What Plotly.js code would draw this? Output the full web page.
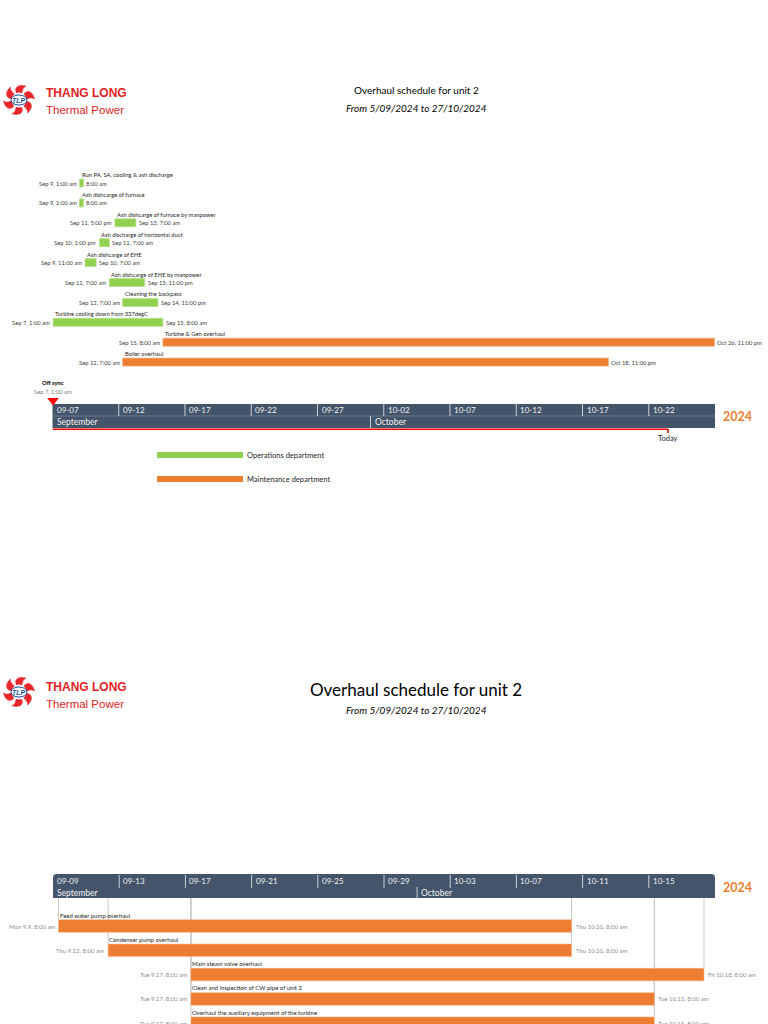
<!DOCTYPE html>
<html><head><meta charset="utf-8">
<script src="https://cdn.plot.ly/plotly-3.0.1.min.js"></script>
<style>html,body{margin:0;padding:0;background:#fff;}#chart{width:768px;height:1024px;}</style>
</head><body><div id="chart"></div>
<script>
// ===== Slide 1 data =====
const tasks1 = ["Run PA, SA, cooling & ash discharge","Ash dishcarge of furnace","Ash dishcarge of furnace by manpower","Ash discharge of horizontal duct","Ash dishcarge of EHE","Ash dishcarge of EHE by manpower","Cleaning the backpass","Turbine cooling down from 337degC","Turbine & Gen overhaul","Boiler overhaul"];
const start1 = ["2024-09-09 01:00","2024-09-09 01:00","2024-09-11 17:00","2024-09-10 13:00","2024-09-09 11:00","2024-09-11 07:00","2024-09-12 07:00","2024-09-07 01:00","2024-09-15 08:00","2024-09-12 07:00"];
const end1 = ["2024-09-09 08:00","2024-09-09 08:00","2024-09-13 07:00","2024-09-11 07:00","2024-09-10 07:00","2024-09-13 23:00","2024-09-14 23:00","2024-09-15 08:00","2024-10-26 23:00","2024-10-18 23:00"];
const startLabels1 = ["Sep 9, 1:00 am","Sep 9, 1:00 am","Sep 11, 5:00 pm","Sep 10, 1:00 pm","Sep 9, 11:00 am","Sep 11, 7:00 am","Sep 12, 7:00 am","Sep 7, 1:00 am","Sep 15, 8:00 am","Sep 12, 7:00 am"];
const endLabels1 = ["8:00 am","8:00 am","Sep 13, 7:00 am","Sep 11, 7:00 am","Sep 10, 7:00 am","Sep 13, 11:00 pm","Sep 14, 11:00 pm","Sep 15, 8:00 am","Oct 26, 11:00 pm","Oct 18, 11:00 pm"];
const dept1 = ["Operations department","Operations department","Operations department","Operations department","Operations department","Operations department","Operations department","Operations department","Maintenance department","Maintenance department"];
const tickDates1 = ["2024-09-07","2024-09-12","2024-09-17","2024-09-22","2024-09-27","2024-10-02","2024-10-07","2024-10-12","2024-10-17","2024-10-22"];
const tickLabels1 = ["09-07","09-12","09-17","09-22","09-27","10-02","10-07","10-12","10-17","10-22"];
const monthStarts1 = ["2024-09-07","2024-10-01"];
const monthLabels1 = ["September","October"];
const offSyncDate = "2024-09-07 01:00";
const offSyncLabel = "Sep 7, 1:00 am";
const todayDate = "2024-10-23 11:00";
const departments = ["Operations department","Maintenance department"];

// ===== Slide 2 data =====
const tasks2 = ["Feed water pump overhaul","Condenser pump overhaul","Main steam valve overhaul","Clean and inspection of CW pipe of unit 2","Overhaul the auxiliary equipment of the turbine"];
const start2 = ["2024-09-09 08:00","2024-09-12 08:00","2024-09-17 08:00","2024-09-17 08:00","2024-09-17 08:00"];
const end2 = ["2024-10-10 08:00","2024-10-10 08:00","2024-10-18 08:00","2024-10-15 08:00","2024-10-15 08:00"];
const startLabels2 = ["Mon 9.9, 8:00 am","Thu 9.12, 8:00 am","Tue 9.17, 8:00 am","Tue 9.17, 8:00 am","Tue 9.17, 8:00 am"];
const endLabels2 = ["Thu 10.10, 8:00 am","Thu 10.10, 8:00 am","Fri 10.18, 8:00 am","Tue 10.15, 8:00 am","Tue 10.15, 8:00 am"];
const tickDates2 = ["2024-09-09","2024-09-13","2024-09-17","2024-09-21","2024-09-25","2024-09-29","2024-10-03","2024-10-07","2024-10-11","2024-10-15"];
const tickLabels2 = ["09-09","09-13","09-17","09-21","09-25","09-29","10-03","10-07","10-11","10-15"];
const monthStarts2 = ["2024-09-09","2024-10-01"];
const monthLabels2 = ["September","October"];

// ===== layout constants =====
const W = 768, H = 1024;
const FONT = "Lato, 'Open Sans', sans-serif";
const ARIAL = "'Liberation Sans', Arial, sans-serif";
const GREEN = "#92d050", ORANGE = "#ed7d31", HDR = "#44546a";
const row1 = i => 183 + i * 19.9;
const row2 = i => 926 + i * 24.3;
const toMs = s => Date.parse(s.replace(" ", "T") + "Z");
const dur = (a, b) => a.map((s, i) => toMs(b[i]) - toMs(s));

const traces = [];
const shapes = [];
const anns = [];
function ann(o) { anns.push(Object.assign({showarrow:false, font:{family:FONT, size:6, color:"#262626"}}, o)); }

// --- Slide 1 bars ---
const colorOf = {"Operations department": GREEN, "Maintenance department": ORANGE};
const lineOf = {"Operations department": "#b5e08a", "Maintenance department": "#f4b183"};
departments.forEach(d => {
  const idx = dept1.map((v, i) => v === d ? i : -1).filter(i => i >= 0);
  traces.push({
    type:"bar", orientation:"h", xaxis:"x", yaxis:"y",
    base: idx.map(i => start1[i]),
    x: idx.map(i => toMs(end1[i]) - toMs(start1[i])),
    y: idx.map(i => row1(i)), width: 8,
    marker:{color: colorOf[d], line:{color: lineOf[d], width: 0.8}},
    hoverinfo:"skip", showlegend:false
  });
});
tasks1.forEach((t, i) => {
  ann({xref:"x", yref:"y", x:start1[i], y:row1(i) - 8.5, text:t, xanchor:"left", yanchor:"middle", font:{family:FONT, size:5.8, color:"#262626"}});
  ann({xref:"x", yref:"y", x:start1[i], y:row1(i), text:startLabels1[i], xanchor:"right", yanchor:"middle", xshift:-1, font:{family:FONT, size:5.8, color:"#404040"}});
  ann({xref:"x", yref:"y", x:end1[i], y:row1(i), text:endLabels1[i], xanchor:"left", yanchor:"middle", xshift:1, font:{family:FONT, size:5.8, color:"#404040"}});
});

// --- Slide 1 timeline header ---
shapes.push({type:"rect", xref:"x domain", yref:"y", x0:0, x1:1, y0:404, y1:428, fillcolor:HDR, line:{width:0}, layer:"below"});
shapes.push({type:"line", xref:"x domain", yref:"y", x0:0, x1:1, y0:416, y1:416, line:{color:"#8497b0", width:0.6}});
tickDates1.forEach((d, i) => {
  if (i > 0) shapes.push({type:"line", xref:"x", yref:"y", x0:d, x1:d, y0:404, y1:416, line:{color:"#c9d0da", width:1}});
  ann({xref:"x", yref:"y", x:d, y:410, text:tickLabels1[i], xanchor:"left", yanchor:"middle", xshift:2, font:{family:FONT, size:8, color:"#f2f2f2"}});
});
monthStarts1.forEach((d, i) => {
  if (i > 0) shapes.push({type:"line", xref:"x", yref:"y", x0:d, x1:d, y0:416, y1:428, line:{color:"#c9d0da", width:1}});
  ann({xref:"x", yref:"y", x:d, y:422, text:monthLabels1[i], xanchor:"left", yanchor:"middle", xshift:2, font:{family:FONT, size:8.5, color:"#f2f2f2"}});
});
shapes.push({type:"line", xref:"x", yref:"y", x0:tickDates1[0], x1:todayDate, y0:429.2, y1:429.2, line:{color:"#ff0000", width:1.5}});
shapes.push({type:"line", xref:"x", yref:"y", x0:todayDate, x1:todayDate, y0:429, y1:433, line:{color:"#e00000", width:1.5}});
ann({xref:"x", yref:"y", x:todayDate, y:438, text:"Today", xanchor:"center", yanchor:"middle", font:{family:FONT, size:7.5, color:"#262626"}});
traces.push({type:"scatter", mode:"markers", xaxis:"x", yaxis:"y", x:[offSyncDate], y:[400.5], marker:{symbol:"triangle-down", size:10, color:"#ff0000"}, hoverinfo:"skip", showlegend:false, cliponaxis:false});
ann({xref:"x", yref:"y", x:offSyncDate, y:382, text:"<b>Off sync</b>", xanchor:"center", yanchor:"middle", font:{family:FONT, size:5.8, color:"#000"}});
ann({xref:"x", yref:"y", x:offSyncDate, y:391, text:offSyncLabel, xanchor:"center", yanchor:"middle", font:{family:FONT, size:5.8, color:"#7f7f7f"}});
ann({xref:"paper", yref:"y", x:737/W, y:416, text:"<b>2024</b>", xanchor:"center", yanchor:"middle", font:{family:FONT, size:12.5, color:ORANGE}});

// --- Slide 1 legend ---
departments.forEach((d, i) => {
  const yy = 455 + i * 24;
  shapes.push({type:"rect", xref:"paper", yref:"y", x0:157/W, x1:243/W, y0:yy - 3, y1:yy + 3, fillcolor:colorOf[d], line:{width:0}});
  ann({xref:"paper", yref:"y", x:245/W, y:yy, text:d, xanchor:"left", yanchor:"middle", font:{family:FONT, size:7.5, color:"#262626"}});
});

// --- Slide 2 bars ---
traces.push({
  type:"bar", orientation:"h", xaxis:"x2", yaxis:"y2",
  base: start2, x: dur(start2, end2), y: tasks2.map((t, i) => row2(i)), width: 12.5,
  marker:{color: ORANGE, line:{color:"#f4b183", width:0.6}},
  hoverinfo:"skip", showlegend:false
});
tasks2.forEach((t, i) => {
  const top = row2(i) - 6.5;
  shapes.push({type:"line", xref:"x2", yref:"y2", x0:start2[i], x1:start2[i], y0:898, y1:top, line:{color:"#c8c8c8", width:1}, layer:"below"});
  shapes.push({type:"line", xref:"x2", yref:"y2", x0:end2[i], x1:end2[i], y0:898, y1:top, line:{color:"#c8c8c8", width:1}, layer:"below"});
  ann({xref:"x2", yref:"y2", x:start2[i], y:row2(i) - 11, text:t, xanchor:"left", yanchor:"middle", xshift:-1, font:{family:FONT, size:6, color:"#262626"}});
  ann({xref:"x2", yref:"y2", x:start2[i], y:row2(i), text:startLabels2[i], xanchor:"right", yanchor:"middle", xshift:-2, font:{family:FONT, size:6, color:"#8c8c8c"}});
  ann({xref:"x2", yref:"y2", x:end2[i], y:row2(i), text:endLabels2[i], xanchor:"left", yanchor:"middle", xshift:2, font:{family:FONT, size:6, color:"#8c8c8c"}});
});

// --- Slide 2 timeline header ---
shapes.push({type:"path", xref:"x2 domain", yref:"y2", path:"M 0,898 L 0,878 Q 0,874 0.006,874 L 0.994,874 Q 1,874 1,878 L 1,898 Z", fillcolor:HDR, line:{width:0}, layer:"below"});
tickDates2.forEach((d, i) => {
  if (i > 0) shapes.push({type:"line", xref:"x2", yref:"y2", x0:d, x1:d, y0:875, y1:888, line:{color:"#c9d0da", width:1}});
  ann({xref:"x2", yref:"y2", x:d, y:881, text:tickLabels2[i], xanchor:"left", yanchor:"middle", xshift:2, font:{family:FONT, size:8, color:"#f2f2f2"}});
});
monthStarts2.forEach((d, i) => {
  if (i > 0) shapes.push({type:"line", xref:"x2", yref:"y2", x0:d, x1:d, y0:887, y1:898, line:{color:"#c9d0da", width:1}});
  ann({xref:"x2", yref:"y2", x:d, y:893, text:monthLabels2[i], xanchor:"left", yanchor:"middle", xshift:2, font:{family:FONT, size:8.5, color:"#f2f2f2"}});
});
ann({xref:"paper", yref:"y", x:737/W, y:887, text:"<b>2024</b>", xanchor:"center", yanchor:"middle", font:{family:FONT, size:12.5, color:ORANGE}});

// --- Titles ---
ann({xref:"paper", yref:"y", x:416/W, y:90, text:"Overhaul schedule for unit 2", xanchor:"center", yanchor:"middle", font:{family:FONT, size:10, color:"#000"}});
ann({xref:"paper", yref:"y", x:416/W, y:108, text:"<i>From 5/09/2024 to 27/10/2024</i>", xanchor:"center", yanchor:"middle", font:{family:FONT, size:10, color:"#000"}});
ann({xref:"paper", yref:"y", x:416/W, y:689, text:"Overhaul schedule for unit 2", xanchor:"center", yanchor:"middle", font:{family:FONT, size:17, color:"#000"}});
ann({xref:"paper", yref:"y", x:416/W, y:710, text:"<i>From 5/09/2024 to 27/10/2024</i>", xanchor:"center", yanchor:"middle", font:{family:FONT, size:10, color:"#000"}});

// --- Logo ---
function logo(cx, cy, ty1, ty2) {
  const P = (r, deg) => { const a = deg * Math.PI / 180; return ((cx + r * Math.cos(a)) / W).toFixed(5) + "," + (cy + r * Math.sin(a)).toFixed(2); };
  for (let k = 0; k < 6; k++) {
    const t = k * 60 + 15;
    const path = "M " + P(6.5, t) + " C " + P(12, t - 14) + " " + P(17, t + 8) + " " + P(15.5, t + 42) +
                 " C " + P(13.5, t + 32) + " " + P(10.5, t + 34) + " " + P(6.5, t + 40) + " Z";
    shapes.push({type:"path", xref:"paper", yref:"y", path:path, fillcolor:"#e8262b", line:{color:"#e8262b", width:0.5}});
  }
  shapes.push({type:"circle", xref:"paper", yref:"y", x0:(cx - 7.5) / W, x1:(cx + 7.5) / W, y0:cy - 7.5, y1:cy + 7.5, fillcolor:"#fff", line:{width:0}});
  shapes.push({type:"circle", xref:"paper", yref:"y", x0:(cx - 8) / W, x1:(cx + 8) / W, y0:cy - 5, y1:cy + 5, fillcolor:"rgba(0,0,0,0)", line:{color:"#1f4e9c", width:1}});
  ann({xref:"paper", yref:"y", x:cx / W, y:cy, text:"<b><i>TLP</i></b>", xanchor:"center", yanchor:"middle", font:{family:ARIAL, size:7, color:"#1f4e9c"}});
  ann({xref:"paper", yref:"y", x:44 / W, y:ty1, text:"<b>THANG LONG</b>", xanchor:"left", yanchor:"middle", font:{family:ARIAL, size:12, color:"#e31e24"}});
  ann({xref:"paper", yref:"y", x:44 / W, y:ty2, text:"Thermal Power", xanchor:"left", yanchor:"middle", font:{family:ARIAL, size:11.5, color:"#e31e24"}});
}
logo(19, 100, 93, 110);
logo(19, 692, 687, 704);

const layout = {
  width: W, height: H, autosize:false,
  margin:{l:0, r:0, t:0, b:0, pad:0},
  paper_bgcolor:"#fff", plot_bgcolor:"rgba(0,0,0,0)",
  barmode:"overlay", showlegend:false,
  xaxis:{type:"date", domain:[52.5 / W, 715 / W], range:["2024-09-07", "2024-10-27"], visible:false, anchor:"y", fixedrange:true},
  yaxis:{domain:[0, 1], range:[H, 0], visible:false, anchor:"x", fixedrange:true},
  xaxis2:{type:"date", domain:[53 / W, 715 / W], range:["2024-09-09", "2024-10-19"], visible:false, anchor:"y2", fixedrange:true},
  yaxis2:{domain:[0, 1], range:[H, 0], visible:false, anchor:"x2", fixedrange:true},
  shapes: shapes, annotations: anns
};
Plotly.newPlot("chart", traces, layout, {displayModeBar:false, staticPlot:true});
</script></body></html>
